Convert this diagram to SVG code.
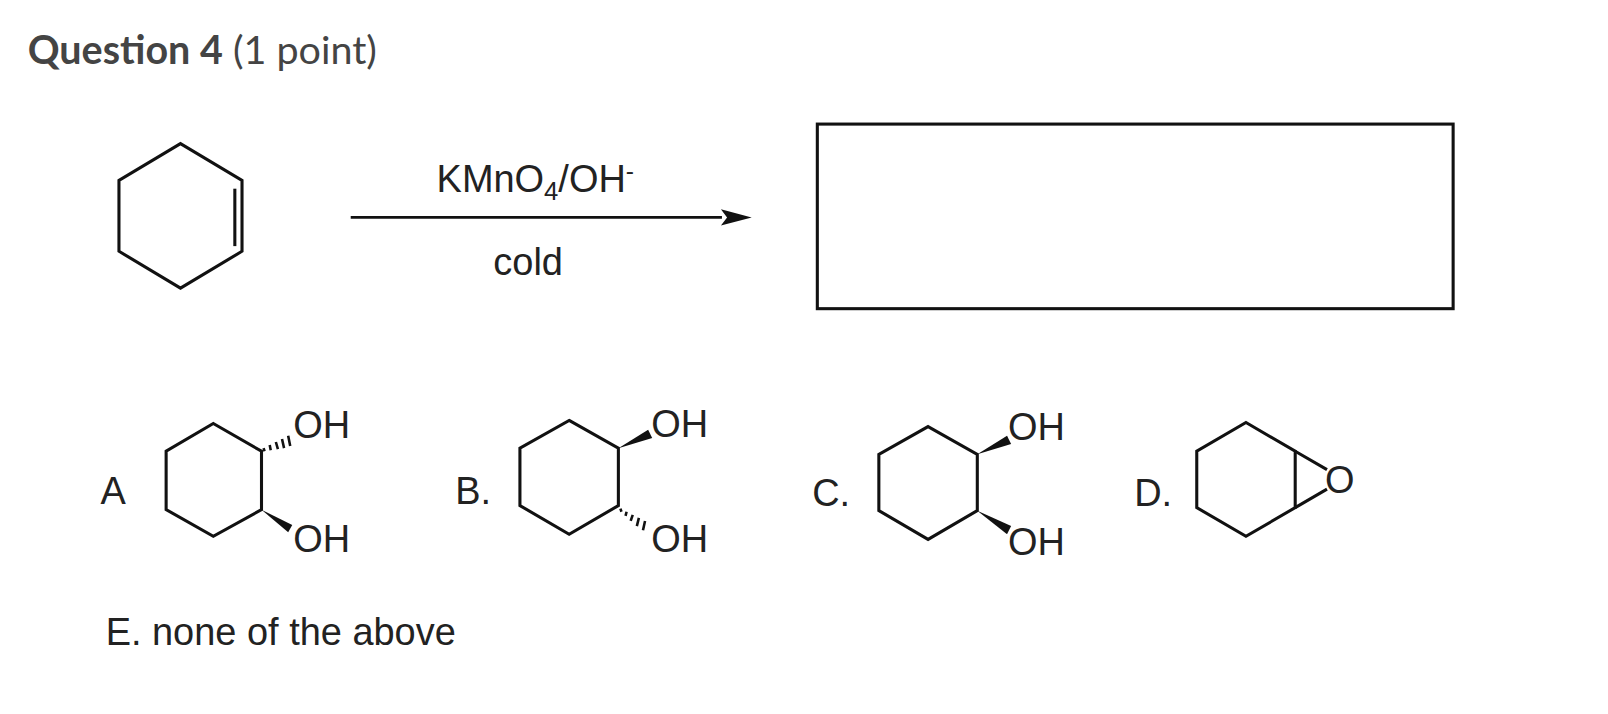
<svg xmlns="http://www.w3.org/2000/svg" width="1608" height="714" viewBox="0 0 1608 714">
<style>
.b{fill:none;stroke:#111;stroke-width:3;stroke-linejoin:miter}
.t{font-family:Arimo,"Liberation Sans",Arial,sans-serif;font-size:37px;fill:#222}
.w{fill:#111}
</style>
<rect width="1608" height="714" fill="#fff"/>
<g transform="scale(1.0255)">
<text x="27" y="62" font-family="Lato,sans-serif" font-size="38.5" fill="#444"><tspan font-weight="bold">Question 4</tspan> (1 point)</text>
<g id="reactant"><path class="b" d="M176 140L236 176L236 245L176 281L116 245L116 176Z"/><line class="b" x1="229" y1="184" x2="229" y2="240"/></g>
<g id="connectors"><line x1="342" y1="212" x2="704" y2="212" stroke="#111" stroke-width="2.5"/><path d="M703 204L733 212L703 220L709 212Z" fill="#111"/></g>
<text class="t" x="522" y="187" text-anchor="middle" font-size="34">KMnO<tspan font-size="25" dy="8">4</tspan><tspan dy="-8">/OH</tspan><tspan font-size="24" dy="-12">-</tspan></text>
<text class="t" x="515" y="268" text-anchor="middle" font-size="34">cold</text>
<g id="answer"><rect x="797" y="121" width="620" height="180" fill="none" stroke="#111" stroke-width="3"/></g>
<g id="A"><text class="t" x="98" y="491">A</text>
<path class="b" d="M208 413L255 440L255 497L208 523L162 497L162 440Z"/>
<path class="w" d="M255 497L285 512L281 519Z"/>
<path d="M257 437L258 440M263 434L264 439M269 431L271 438M275 428L277 437M281 425L283 435" stroke="#111" stroke-width="2.5"/>
<text class="t" x="286" y="427">OH</text><text class="t" x="286" y="538">OH</text></g>
<g id="B"><text class="t" x="444" y="491">B.</text>
<path class="b" d="M555 410L603 437L603 493L555 521L507 493L507 437Z"/>
<path class="w" d="M603 437L632 419L636 427Z"/>
<path d="M605 496L606 499M611 499L610 503M617 502L615 508M623 505L621 513M629 508L627 517" stroke="#111" stroke-width="2.5"/>
<text class="t" x="635" y="426">OH</text><text class="t" x="635" y="538">OH</text></g>
<g id="C"><text class="t" x="792" y="493">C.</text>
<path class="b" d="M905 416L953 443L953 498L905 526L857 498L857 443Z"/>
<path class="w" d="M953 443L982 425L986 433Z"/>
<path class="w" d="M953 498L986 513L982 521Z"/>
<text class="t" x="983" y="429">OH</text><text class="t" x="983" y="541">OH</text></g>
<g id="D"><text class="t" x="1106" y="493">D.</text>
<path class="b" d="M1215 412L1263 440L1263 495L1215 523L1167 495L1167 440Z"/>
<path class="b" d="M1263 440L1294 458M1263 495L1294 477"/>
<text class="t" x="1292" y="481">O</text></g>
<text class="t" x="103" y="629">E. none of the above</text>
</g>
</svg>
